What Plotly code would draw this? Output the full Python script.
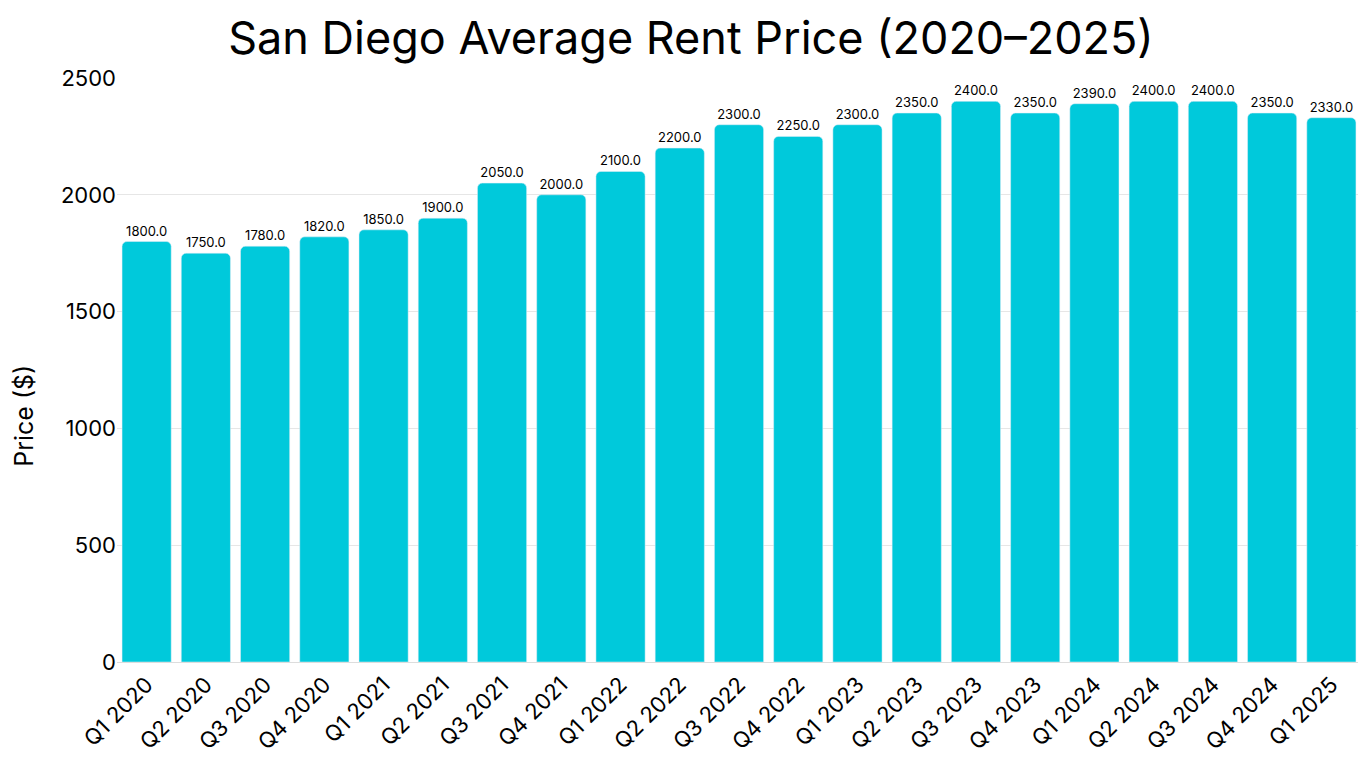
import plotly.graph_objects as go

quarters = ['Q1 2020', 'Q2 2020', 'Q3 2020', 'Q4 2020', 'Q1 2021', 'Q2 2021', 'Q3 2021',
            'Q4 2021', 'Q1 2022', 'Q2 2022', 'Q3 2022', 'Q4 2022', 'Q1 2023', 'Q2 2023',
            'Q3 2023', 'Q4 2023', 'Q1 2024', 'Q2 2024', 'Q3 2024', 'Q4 2024', 'Q1 2025']
rent_price = [1800, 1750, 1780, 1820, 1850, 1900, 2050, 2000, 2100, 2200, 2300,
              2250, 2300, 2350, 2400, 2350, 2390, 2400, 2400, 2350, 2330]

fig = go.Figure()
fig.add_trace(go.Bar(
    x=quarters,
    y=rent_price,
    marker=dict(color='#00C9DB', cornerradius=5),
    texttemplate='%{y:.1f}',
    textposition='outside',
    textfont=dict(size=13, color='black'),
    cliponaxis=False,
))

# y axis title placed by hand, it sits a bit below the plot centre in the reference
fig.add_annotation(text='Price ($)', xref='paper', yref='paper', x=-0.075, y=0.421,
                   xanchor='center', yanchor='middle', textangle=-90, showarrow=False,
                   borderpad=0, font=dict(size=25, color='black'))

fig.update_layout(
    title=dict(text='San Diego Average Rent Price (2020\u20132025)', x=0.5, xanchor='center',
               y=0.96, yanchor='middle', font=dict(size=45, color='black')),
    font=dict(family='Inter, Open Sans, sans-serif', color='black'),
    plot_bgcolor='white',
    paper_bgcolor='white',
    width=1366,
    height=768,
    margin=dict(l=109, r=13, t=70, b=114),
    bargap=0.17,
    showlegend=False,
    xaxis=dict(tickangle=-45, tickfont=dict(size=22), showgrid=False,
               showline=True, linecolor='#dddddd', ticks=''),
    yaxis=dict(range=[0, 2500], tickvals=[0, 500, 1000, 1500, 2000, 2500],
               tickfont=dict(size=22), gridcolor='#e6e6e6', zeroline=False),
)

fig.write_html('out.html')
